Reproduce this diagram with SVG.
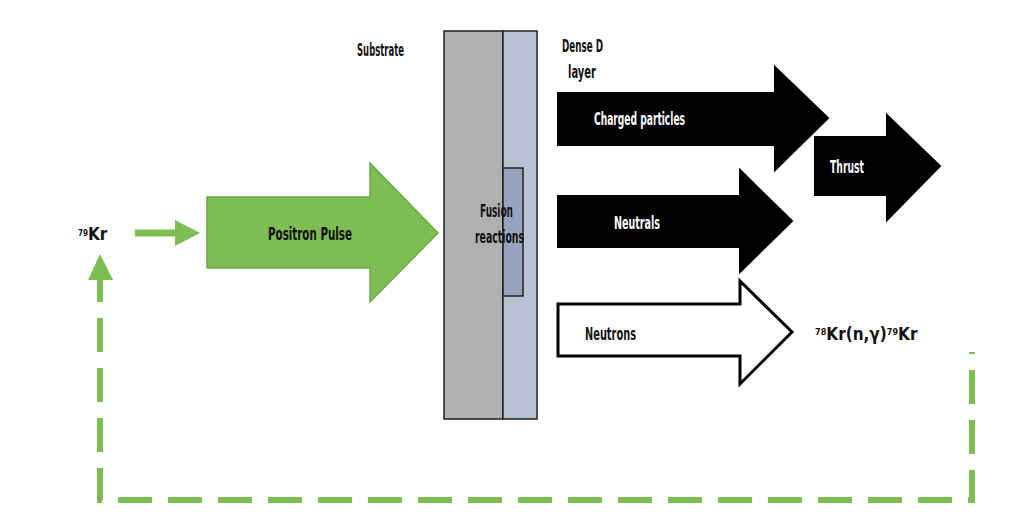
<svg xmlns="http://www.w3.org/2000/svg" width="1024" height="532" viewBox="0 0 1024 532">
<style>
text{font-family:"DejaVu Sans Condensed","Liberation Sans",sans-serif;font-weight:bold;}
.lbl{font-size:17px;fill:#111;}
.wl{font-size:17px;fill:#fff;}
.blk{fill:#000;stroke:#000;stroke-width:2;}
.grn{fill:#7dbd52;stroke:#6ea846;stroke-width:1.5;}
.dash{fill:none;stroke:#7dbd52;stroke-width:6;stroke-dasharray:34 16;}
</style>
<rect width="1024" height="532" fill="#fff"/>
<g id="substrate">
<rect x="444" y="31" width="59" height="388" fill="#b0b0b0" stroke="#222" stroke-width="1.5"/>
<text class="lbl" x="357" y="56" textLength="47" lengthAdjust="spacingAndGlyphs">Substrate</text>
</g>
<g id="dense-layer">
<rect x="503" y="31" width="34" height="388" fill="#b8c2d3" stroke="#222" stroke-width="1.5"/>
<text class="lbl" x="562" y="52" textLength="41" lengthAdjust="spacingAndGlyphs">Dense D</text>
<text class="lbl" x="568" y="78" textLength="28" lengthAdjust="spacingAndGlyphs">layer</text>
</g>
<g id="fusion">
<rect x="503" y="168" width="20" height="128" fill="#95a3bd" stroke="#222" stroke-width="1.5"/>
<text class="lbl" x="480" y="217" textLength="33" lengthAdjust="spacingAndGlyphs">Fusion</text>
<text class="lbl" x="475" y="243" textLength="49" lengthAdjust="spacingAndGlyphs">reactions</text>
</g>
<g id="kr79">
<text class="lbl" x="78" y="240" font-size="14"><tspan font-size="8" baseline-shift="super">79</tspan>Kr</text>
</g>
<g id="positron-pulse">
<polygon class="grn" points="207,197 370,197 370,163 438,233 370,302 370,268 207,268"/>
<text class="lbl" x="268" y="240" font-size="19" textLength="84" lengthAdjust="spacingAndGlyphs">Positron Pulse</text>
</g>
<g id="charged">
<polygon class="blk" points="558,93 775,93 775,67 828,118 775,170 775,145 558,145"/>
<text class="wl" x="594" y="125" textLength="91" lengthAdjust="spacingAndGlyphs">Charged particles</text>
</g>
<g id="thrust">
<polygon class="blk" points="815,137 887,137 887,115 940,166 887,220 887,195 815,195"/>
<text class="wl" x="830" y="173" textLength="34" lengthAdjust="spacingAndGlyphs">Thrust</text>
</g>
<g id="neutrals">
<polygon class="blk" points="558,196 740,196 740,170 792,221 740,272 740,247 558,247"/>
<text class="wl" x="614" y="229" textLength="46" lengthAdjust="spacingAndGlyphs">Neutrals</text>
</g>
<g id="neutrons">
<polygon fill="#fff" stroke="#000" stroke-width="3" points="558,304 740,304 740,281 792,332 740,384 740,356 558,356"/>
<text class="lbl" x="585" y="340" textLength="51" lengthAdjust="spacingAndGlyphs">Neutrons</text>
</g>
<g id="reaction">
<text class="lbl" x="815" y="340" font-size="14.5"><tspan font-size="9" baseline-shift="super">78</tspan>Kr(n,γ)<tspan font-size="9" baseline-shift="super">79</tspan>Kr</text>
</g>
<g id="connectors">
<line x1="135" y1="233" x2="177" y2="233" stroke="#7dbd52" stroke-width="7"/>
<polygon fill="#7dbd52" points="175,220 200,233 175,246"/>
<polygon fill="#7dbd52" points="88,280 100,254 113,280"/>
<line x1="100" y1="278" x2="100" y2="302" stroke="#7dbd52" stroke-width="6"/>
<path class="dash" d="M100,318 V500 H972 V352"/>
</g>
</svg>
